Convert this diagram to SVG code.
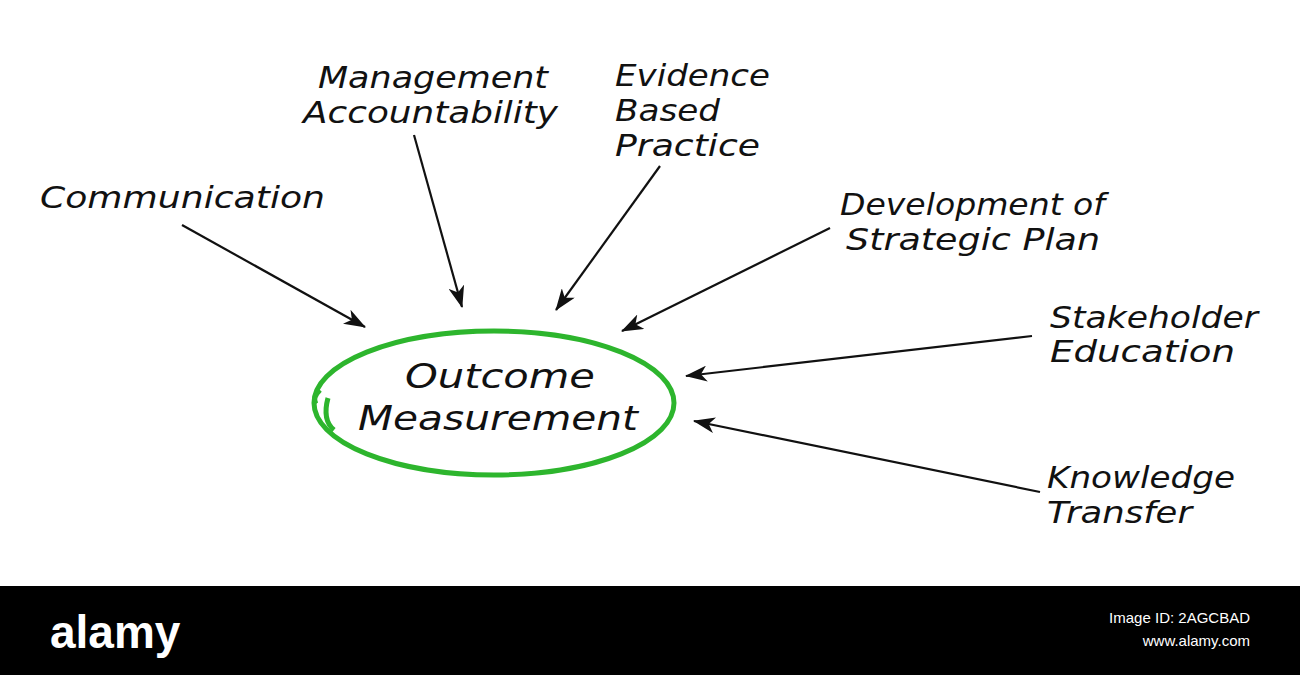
<svg xmlns="http://www.w3.org/2000/svg" width="1300" height="675" viewBox="0 0 1300 675">
<style>
.t{font-family:"DejaVu Sans",sans-serif;font-style:italic;font-size:31px;fill:#111}
.c{font-size:34px}
.a{stroke:#111;stroke-width:2.2;fill:none;marker-end:url(#ah)}
</style>
<defs><marker id="ah" markerWidth="22" markerHeight="16" refX="21" refY="8" orient="auto" markerUnits="userSpaceOnUse" viewBox="0 0 22 16"><path d="M0,0 L22,8 L0,16 L6,8 Z" fill="#111"/></marker></defs>
<rect width="1300" height="675" fill="#fff"/>
<g id="center">
<ellipse cx="494" cy="403" rx="180" ry="72" fill="none" stroke="#2db52d" stroke-width="5"/>
<path d="M320,390 Q312,398 316,404 M328,398 Q322,420 334,430" stroke="#2db52d" stroke-width="5" fill="none"/>
<text class="t c" x="500" y="388" text-anchor="middle" textLength="190" lengthAdjust="spacingAndGlyphs">Outcome</text>
<text class="t c" x="498" y="430" text-anchor="middle" textLength="280" lengthAdjust="spacingAndGlyphs">Measurement</text>
</g>
<g id="n1"><text class="t" x="40" y="208" textLength="285" lengthAdjust="spacingAndGlyphs">Communication</text></g>
<g id="n2"><text class="t" x="318" y="88" textLength="230" lengthAdjust="spacingAndGlyphs">Management</text><text class="t" x="303" y="123" textLength="255" lengthAdjust="spacingAndGlyphs">Accountability</text></g>
<g id="n3"><text class="t" x="615" y="86" textLength="155" lengthAdjust="spacingAndGlyphs">Evidence</text><text class="t" x="615" y="121" textLength="105" lengthAdjust="spacingAndGlyphs">Based</text><text class="t" x="615" y="156" textLength="145" lengthAdjust="spacingAndGlyphs">Practice</text></g>
<g id="n4"><text class="t" x="840" y="215" textLength="265" lengthAdjust="spacingAndGlyphs">Development of</text><text class="t" x="846" y="250" textLength="254" lengthAdjust="spacingAndGlyphs">Strategic Plan</text></g>
<g id="n5"><text class="t" x="1050" y="328" textLength="208" lengthAdjust="spacingAndGlyphs">Stakeholder</text><text class="t" x="1050" y="362" textLength="185" lengthAdjust="spacingAndGlyphs">Education</text></g>
<g id="n6"><text class="t" x="1047" y="488" textLength="188" lengthAdjust="spacingAndGlyphs">Knowledge</text><text class="t" x="1047" y="523" textLength="145" lengthAdjust="spacingAndGlyphs">Transfer</text></g>
<g id="connectors">
<line class="a" x1="182" y1="225" x2="365" y2="327"/>
<line class="a" x1="414" y1="135" x2="462" y2="307"/>
<line class="a" x1="660" y1="166" x2="556" y2="310"/>
<line class="a" x1="830" y1="228" x2="622" y2="331"/>
<line class="a" x1="1032" y1="336" x2="686" y2="376"/>
<line class="a" x1="1040" y1="492" x2="694" y2="421"/>
</g>
<rect x="0" y="586" width="1300" height="89" fill="#000"/>
<text x="50" y="648" font-family="Liberation Sans,sans-serif" font-weight="bold" font-size="46" fill="#fff">alamy</text>
<text x="1250" y="623" text-anchor="end" font-family="Liberation Sans,sans-serif" font-size="15" fill="#fff">Image ID: 2AGCBAD</text>
<text x="1250" y="646" text-anchor="end" font-family="Liberation Sans,sans-serif" font-size="15" fill="#fff">www.alamy.com</text>
</svg>
